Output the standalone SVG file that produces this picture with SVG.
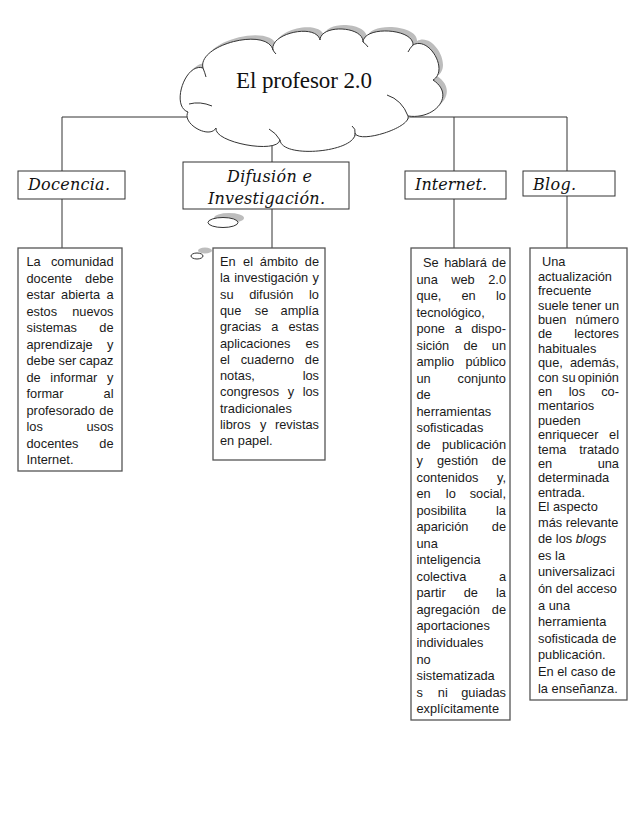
<svg xmlns="http://www.w3.org/2000/svg" width="638" height="826" viewBox="0 0 638 826">
<style>
.ln{fill:none;stroke:#333;stroke-width:1}
.hb{fill:#fff;stroke:#333;stroke-width:1}
.tb{fill:#fff;stroke:#555;stroke-width:1.3}
.h{font-family:"DejaVu Serif",serif;font-style:italic;font-size:16px;fill:#111}
.t{font-family:"Liberation Sans",Arial,sans-serif;font-size:12.8px;fill:#1a1a1a}
.e{text-anchor:end}
.m{text-anchor:middle}
.sh{fill:#bdbdbd;stroke:none}
.cl{fill:#fff;stroke:#333;stroke-width:1}
.in{fill:none;stroke:#333;stroke-width:1}
</style>
<defs>
<path id="cloudPath" d="M188,112 C181.4,123.6 209.4,139.6 216,128 C213.3,142.4 277.3,154.4 280,140 C281.8,159.2 356.8,152.2 355,133 C358.7,144.4 411.7,127.4 408,116 C435,120 456,95 433,80 C449.2,70.7 429.2,35.7 413,45 C414,28.4 364,25.4 363,42 C363.7,26 320.7,24 320,40 C316.4,23.1 269.4,33.1 273,50 C267,26.8 197,44.8 203,68 C185.4,62 170.4,106 188,112 Z"/>
</defs>
<rect width="638" height="826" fill="#fff"/>
<g id="connectors">
<path class="ln" d="M62,117 H567"/>
<path class="ln" d="M62,117 V171 M62,199 V248"/>
<path class="ln" d="M272,130 V162 M272,209 V248"/>
<path class="ln" d="M454,117 V171 M454,199 V248"/>
<path class="ln" d="M567,117 V171 M567,196 V248"/>
</g>
<g id="title">
<use href="#cloudPath" class="sh" transform="translate(4,-4)"/>
<use href="#cloudPath" class="cl"/>
<path class="in" d="M189,104 Q200,101 212,106 M203,68 Q205,73 206,77 M280,140 Q276,133 269,129 M355,133 Q356,129 352,126 M408,116 Q402,100 387,95 M363,42 Q366,44 368,47 M273,50 Q274,52 276,54 M413,45 Q410,48 408,52"/>
<text x="236" y="88" font-family="'Liberation Serif',serif" font-size="23" fill="#111" textLength="136">El profesor 2.0</text>
</g>
<g id="docencia">
<rect class="hb" x="18" y="171" width="107" height="28"/>
<text class="h" x="28" y="190" textLength="82">Docencia.</text>
</g>
<g id="difusion">
<rect class="hb" x="183" y="162" width="166" height="47"/>
<text class="h" x="227" y="182" textLength="85">Difusión e</text>
<text class="h" x="208" y="204" textLength="117">Investigación.</text>
</g>
<g id="internet">
<rect class="hb" x="405" y="171" width="101" height="28"/>
<text class="h" x="415" y="190" textLength="72">Internet.</text>
</g>
<g id="blog">
<rect class="hb" x="523" y="171" width="92" height="25"/>
<text class="h" x="533" y="190" textLength="43">Blog.</text>
</g>
<g id="bubbles">
<ellipse class="sh" cx="229" cy="218" rx="15" ry="5"/>
<ellipse class="cl" cx="223" cy="222.5" rx="15" ry="5"/>
<ellipse class="sh" cx="205" cy="250.5" rx="7" ry="3"/>
<ellipse class="cl" cx="197" cy="256" rx="6" ry="3"/>
</g>
<g id="docencia-text">
<rect class="tb" x="18" y="248" width="104" height="223"/>
<text class="t" y="266"><tspan x="26.5">La</tspan><tspan x="113.5" class="e">comunidad</tspan></text>
<text class="t" y="282.5"><tspan x="26.5">docente</tspan><tspan x="113.5" class="e">debe</tspan></text>
<text class="t" y="299"><tspan x="26.5">estar</tspan><tspan x="80.6" class="m">abierta</tspan><tspan x="113.5" class="e">a</tspan></text>
<text class="t" y="315.5"><tspan x="26.5">estos</tspan><tspan x="113.5" class="e">nuevos</tspan></text>
<text class="t" y="332"><tspan x="26.5">sistemas</tspan><tspan x="113.5" class="e">de</tspan></text>
<text class="t" y="348.5"><tspan x="26.5">aprendizaje</tspan><tspan x="113.5" class="e">y</tspan></text>
<text class="t" y="365"><tspan x="26.5">debe</tspan><tspan x="67.5" class="m">ser</tspan><tspan x="113.5" class="e">capaz</tspan></text>
<text class="t" y="381.5"><tspan x="26.5">de</tspan><tspan x="73.8" class="m">informar</tspan><tspan x="113.5" class="e">y</tspan></text>
<text class="t" y="398"><tspan x="26.5">formar</tspan><tspan x="113.5" class="e">al</tspan></text>
<text class="t" y="414.5"><tspan x="26.5">profesorado</tspan><tspan x="113.5" class="e">de</tspan></text>
<text class="t" y="431"><tspan x="26.5">los</tspan><tspan x="113.5" class="e">usos</tspan></text>
<text class="t" y="447.5"><tspan x="26.5">docentes</tspan><tspan x="113.5" class="e">de</tspan></text>
<text class="t" x="26.5" y="464">Internet.</text>
</g>
<g id="difusion-text">
<rect class="tb" x="213" y="248" width="112" height="212"/>
<text class="t" y="266"><tspan x="220">En</tspan><tspan x="248" class="m">el</tspan><tspan x="279" class="m">ámbito</tspan><tspan x="319" class="e">de</tspan></text>
<text class="t" y="282.3"><tspan x="220">la</tspan><tspan x="271.2" class="m">investigación</tspan><tspan x="319" class="e">y</tspan></text>
<text class="t" y="298.6"><tspan x="220">su</tspan><tspan x="271.2" class="m">difusión</tspan><tspan x="319" class="e">lo</tspan></text>
<text class="t" y="314.9"><tspan x="220">que</tspan><tspan x="261.5" class="m">se</tspan><tspan x="319" class="e">amplía</tspan></text>
<text class="t" y="331.2"><tspan x="220">gracias</tspan><tspan x="274.7" class="m">a</tspan><tspan x="319" class="e">estas</tspan></text>
<text class="t" y="347.5"><tspan x="220">aplicaciones</tspan><tspan x="319" class="e">es</tspan></text>
<text class="t" y="363.8"><tspan x="220">el</tspan><tspan x="267.4" class="m">cuaderno</tspan><tspan x="319" class="e">de</tspan></text>
<text class="t" y="380.1"><tspan x="220">notas,</tspan><tspan x="319" class="e">los</tspan></text>
<text class="t" y="396.4"><tspan x="220">congresos</tspan><tspan x="291" class="m">y</tspan><tspan x="319" class="e">los</tspan></text>
<text class="t" x="220" y="412.7">tradicionales</text>
<text class="t" y="429"><tspan x="220">libros</tspan><tspan x="263.2" class="m">y</tspan><tspan x="319" class="e">revistas</tspan></text>
<text class="t" x="220" y="445.3">en papel.</text>
</g>
<g id="internet-text">
<rect class="tb" x="411" y="248" width="99" height="472"/>
<text class="t" y="267"><tspan x="423">Se</tspan><tspan x="465.5" class="m">hablará</tspan><tspan x="506" class="e">de</tspan></text>
<text class="t" y="283.5"><tspan x="416.5">una</tspan><tspan x="463" class="m">web</tspan><tspan x="506" class="e">2.0</tspan></text>
<text class="t" y="300"><tspan x="416.5">que,</tspan><tspan x="468.6" class="m">en</tspan><tspan x="506" class="e">lo</tspan></text>
<text class="t" x="416.5" y="316.6">tecnológico,</text>
<text class="t" y="333.1"><tspan x="416.5">pone</tspan><tspan x="458.4" class="m">a</tspan><tspan x="506" class="e">dispo-</tspan></text>
<text class="t" y="349.6"><tspan x="416.5">sición</tspan><tspan x="470.5" class="m">de</tspan><tspan x="506" class="e">un</tspan></text>
<text class="t" y="366.1"><tspan x="416.5">amplio</tspan><tspan x="506" class="e">público</tspan></text>
<text class="t" y="382.6"><tspan x="416.5">un</tspan><tspan x="506" class="e">conjunto</tspan></text>
<text class="t" x="416.5" y="399.2">de</text>
<text class="t" x="416.5" y="415.7">herramientas</text>
<text class="t" x="416.5" y="432.2">sofisticadas</text>
<text class="t" y="448.7"><tspan x="416.5">de</tspan><tspan x="506" class="e">publicación</tspan></text>
<text class="t" y="465.2"><tspan x="416.5">y</tspan><tspan x="457.6" class="m">gestión</tspan><tspan x="506" class="e">de</tspan></text>
<text class="t" y="481.8"><tspan x="416.5">contenidos</tspan><tspan x="506" class="e">y,</tspan></text>
<text class="t" y="498.3"><tspan x="416.5">en</tspan><tspan x="450.8" class="m">lo</tspan><tspan x="506" class="e">social,</tspan></text>
<text class="t" y="514.8"><tspan x="416.5">posibilita</tspan><tspan x="506" class="e">la</tspan></text>
<text class="t" y="531.3"><tspan x="416.5">aparición</tspan><tspan x="506" class="e">de</tspan></text>
<text class="t" x="416.5" y="547.8">una</text>
<text class="t" x="416.5" y="564.4">inteligencia</text>
<text class="t" y="580.9"><tspan x="416.5">colectiva</tspan><tspan x="506" class="e">a</tspan></text>
<text class="t" y="597.4"><tspan x="416.5">partir</tspan><tspan x="470.8" class="m">de</tspan><tspan x="506" class="e">la</tspan></text>
<text class="t" y="613.9"><tspan x="416.5">agregación</tspan><tspan x="506" class="e">de</tspan></text>
<text class="t" x="416.5" y="630.4">aportaciones</text>
<text class="t" x="416.5" y="647">individuales</text>
<text class="t" x="416.5" y="663.5">no</text>
<text class="t" x="416.5" y="680">sistematizada</text>
<text class="t" y="696.5"><tspan x="416.5">s</tspan><tspan x="442.8" class="m">ni</tspan><tspan x="506" class="e">guiadas</tspan></text>
<text class="t" x="416.5" y="713">explícitamente</text>
</g>
<g id="blog-text">
<rect class="tb" x="530" y="248" width="97" height="452"/>
<text class="t" x="542" y="266.2">Una</text>
<text class="t" x="538" y="280.5">actualización</text>
<text class="t" x="538" y="295">frecuente</text>
<text class="t" y="309.5"><tspan x="538">suele</tspan><tspan x="586.8" class="m">tener</tspan><tspan x="619" class="e">un</tspan></text>
<text class="t" y="323.8"><tspan x="538">buen</tspan><tspan x="619" class="e">número</tspan></text>
<text class="t" y="338.2"><tspan x="538">de</tspan><tspan x="619" class="e">lectores</tspan></text>
<text class="t" x="538" y="352.6">habituales</text>
<text class="t" y="367"><tspan x="538">que,</tspan><tspan x="619" class="e">además,</tspan></text>
<text class="t" y="381.5"><tspan x="538">con</tspan><tspan x="568.8" class="m">su</tspan><tspan x="619" class="e">opinión</tspan></text>
<text class="t" y="395.8"><tspan x="538">en</tspan><tspan x="576.9" class="m">los</tspan><tspan x="619" class="e">co-</tspan></text>
<text class="t" x="538" y="410.2">mentarios</text>
<text class="t" x="538" y="424.6">pueden</text>
<text class="t" y="439"><tspan x="538">enriquecer</tspan><tspan x="619" class="e">el</tspan></text>
<text class="t" y="453.5"><tspan x="538">tema</tspan><tspan x="619" class="e">tratado</tspan></text>
<text class="t" y="467.8"><tspan x="538">en</tspan><tspan x="619" class="e">una</tspan></text>
<text class="t" x="538" y="482.2">determinada</text>
<text class="t" x="538" y="496.5">entrada.</text>
<text class="t" x="538" y="510.5">El aspecto</text>
<text class="t" x="538" y="526.5">más relevante</text>
<text class="t" x="538" y="543">de los <tspan font-style="italic">blogs</tspan></text>
<text class="t" x="538" y="559.7">es la</text>
<text class="t" x="538" y="576.3">universalizaci</text>
<text class="t" x="538" y="592.9">ón del acceso</text>
<text class="t" x="538" y="609.5">a una</text>
<text class="t" x="538" y="626.1">herramienta</text>
<text class="t" x="538" y="642.7">sofisticada de</text>
<text class="t" x="538" y="659.3">publicación.</text>
<text class="t" x="538" y="675.9">En el caso de</text>
<text class="t" x="538" y="692.5">la enseñanza.</text>
</g>
</svg>
